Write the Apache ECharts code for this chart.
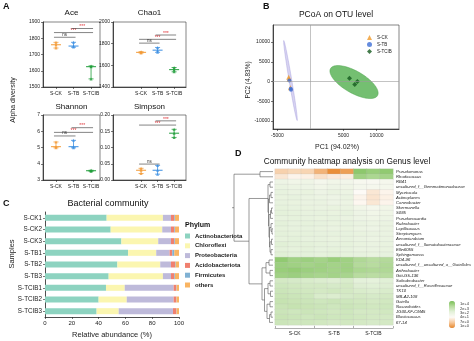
<!DOCTYPE html>
<html><head><meta charset="utf-8">
<script src="https://cdn.jsdelivr.net/npm/echarts@6.0.0/dist/echarts.min.js"></script>
<style>html,body{margin:0;padding:0;background:#fff;}#c{width:474px;height:341px;}</style>
</head><body><div id="c"></div>
<script>
// ===== Panel A: alpha diversity =====
const groups = ['S-CK', 'S-TB', 'S-TCIB'];
const groupPos = [1, 2, 3];
const groupColors = ['#f39a36', '#3b8ee2', '#1f9d3a'];

const aceMean = [1760, 1752, 1625];
const aceLow = [1740, 1745, 1550];
const aceHigh = [1775, 1775, 1630];
const acePoints = [[1775, 1760, 1740], [1775, 1752, 1746], [1630, 1624, 1550]];
const aceSig = [[1, 2, 1806], [1, 3, 1835], [2, 3, 1860]];

const chaoMean = [1720, 1740, 1560];
const chaoLow = [1714, 1720, 1540];
const chaoHigh = [1726, 1765, 1580];
const chaoPoints = [[1726, 1720, 1714], [1765, 1738, 1720], [1580, 1560, 1540]];
const chaoSig = [[1, 2, 1805], [1, 3, 1840], [2, 3, 1880]];

const shannonMean = [5.05, 5.05, 3.57];
const shannonLow = [4.98, 4.98, 3.54];
const shannonHigh = [5.34, 5.44, 3.60];
const shannonPoints = [[5.34, 5.05, 4.98], [5.44, 5.05, 4.98], [3.60, 3.57, 3.54]];
const shannonSig = [[1, 2, 5.71], [1, 3, 5.93], [2, 3, 6.22]];

const simpsonMean = [0.030, 0.030, 0.144];
const simpsonLow = [0.020, 0.018, 0.131];
const simpsonHigh = [0.036, 0.045, 0.156];
const simpsonPoints = [[0.036, 0.030, 0.020], [0.045, 0.030, 0.018], [0.156, 0.144, 0.131]];
const simpsonSig = [[1, 2, 0.049], [1, 3, 0.169], [2, 3, 0.182]];

const sigLabels = ['ns', '***', '***'];

// ===== Panel B: PCoA =====
const pcoaCK = [[-3300, 1100], [-3250, 600], [-3050, -1550]];
const pcoaTB = [[-3200, 250], [-2950, -2100], [-3000, -1800]];
const pcoaTCIB = [[5900, 850], [6700, -750], [7100, 0]];
// [cx, cy, ux, uy, vx, vy] : centre and two half-axis vectors (data units)
const ellipseData = [[-3035, 255, 1015, -10120, 210, 0], [6590, -125, 3560, -3415, -820, -2400]];
const pcoaXTicks = [-5000, 5000, 10000];
const pcoaYTicks = [-10000, -5000, 0, 5000, 10000];

// ===== Panel C: bacterial community =====
const samples = ['S-CK1', 'S-CK2', 'S-CK3', 'S-TB1', 'S-TB2', 'S-TB3', 'S-TCIB1', 'S-TCIB2', 'S-TCIB3'];
const phyla = ['Actinobacteriota', 'Chloroflexi', 'Proteobacteria', 'Acidobacteriota', 'Firmicutes', 'others'];
const actino = [46, 49, 57, 62, 54, 47.5, 45.5, 40, 38.5];
const chloro = [42, 38.5, 27.5, 21, 32, 40.5, 14, 21, 16.5];
const proteo = [6, 6.5, 9.5, 10, 8, 6, 36.5, 35, 40.5];
const acido = [2.5, 2.5, 2.5, 2, 3, 2.5, 2, 2, 2.5];
const firmi = [0.5, 0.5, 0.5, 1.5, 0.5, 0.5, 0.3, 0.2, 0.2];
const others = [3, 3, 3, 3.5, 2.5, 3, 1.7, 1.8, 1.8];
const phylumColors = ['#8dd3c0', '#fbf6b0', '#bebada', '#f0806f', '#80b1d3', '#f9b462'];

// ===== Panel D: heatmap =====
const sampleCols = ['CK1', 'CK2', 'CK3', 'TB1', 'TB2', 'TB3', 'TCIB1', 'TCIB2', 'TCIB3'];
const genera = ['Pseudomonas', 'Rhodococcus', 'RB41', 'uncultured_f__Gemmatimonadaceae', 'Mycetocola',
  'Actinoplanes', 'Conexibacter', 'Skermanella', 'S085', 'Pseudonocardia', 'Rubrobacter', 'Lapillicoccus',
  'Streptomyces', 'Aeromicrobium', 'uncultured_f__Ilumatobacteraceae', 'Ellin6055', 'Sphingomonas', 'KD4-96',
  'uncultured_f__uncultured_o__Gaiellales', 'Arthrobacter', 'Gitt-GS-136', 'Solirubrobacter',
  'uncultured_f__Roseiflexaceae', 'TK10', 'MB-A2-108', 'Gaiella', 'Nocardioides', 'JG30-KF-CM45',
  'Blastococcus', '67-14'];
// log10 abundance per genus (rows) and sample (columns)
const heatRows = [
  [0.95, 1.05, 1.0, 0.55, 0.1, 0.3, 3.75, 3.6, 3.7],
  [1.3, 1.5, 1.45, 1.2, 1.35, 1.4, 3.5, 3.35, 3.45],
  [2.1, 2.0, 2.05, 1.9, 2.0, 1.95, 1.8, 1.75, 1.85],
  [2.2, 2.15, 2.1, 2.0, 2.1, 2.05, 1.9, 1.85, 1.9],
  [2.3, 2.2, 2.25, 2.1, 2.2, 2.15, 1.6, 1.3, 1.5],
  [2.25, 2.3, 2.2, 2.15, 2.1, 2.2, 1.5, 1.25, 1.45],
  [2.3, 2.25, 2.2, 2.2, 2.1, 2.15, 1.55, 1.3, 1.5],
  [2.35, 2.3, 2.25, 2.2, 2.25, 2.2, 2.0, 1.9, 2.0],
  [2.4, 2.35, 2.3, 2.3, 2.25, 2.3, 2.1, 2.0, 2.05],
  [2.3, 2.35, 2.3, 2.25, 2.3, 2.2, 2.1, 2.05, 2.1],
  [2.4, 2.3, 2.35, 2.3, 2.25, 2.3, 2.2, 2.15, 2.2],
  [2.35, 2.3, 2.3, 2.25, 2.2, 2.25, 2.15, 2.1, 2.2],
  [2.4, 2.35, 2.35, 2.3, 2.3, 2.3, 2.25, 2.2, 2.2],
  [2.35, 2.4, 2.3, 2.3, 2.25, 2.3, 2.2, 2.15, 2.2],
  [2.45, 2.4, 2.4, 2.35, 2.3, 2.35, 2.25, 2.2, 2.25],
  [2.4, 2.35, 2.4, 2.3, 2.35, 2.3, 2.2, 2.2, 2.25],
  [2.45, 2.4, 2.4, 2.35, 2.4, 2.35, 2.3, 2.25, 2.3],
  [3.7, 3.5, 3.55, 3.45, 3.6, 3.5, 3.3, 3.2, 3.25],
  [3.55, 3.5, 3.45, 3.5, 3.45, 3.5, 3.25, 3.2, 3.3],
  [3.6, 3.65, 3.55, 3.5, 3.45, 3.5, 3.35, 3.3, 3.3],
  [3.5, 3.55, 3.45, 3.4, 3.45, 3.4, 3.2, 3.15, 3.2],
  [2.7, 2.65, 2.6, 2.55, 2.5, 2.6, 2.4, 2.35, 2.45],
  [2.8, 2.75, 2.7, 2.7, 2.65, 2.7, 2.5, 2.45, 2.5],
  [2.85, 2.8, 2.75, 2.7, 2.75, 2.7, 2.6, 2.55, 2.6],
  [2.9, 2.85, 2.8, 2.6, 2.55, 2.65, 2.7, 2.65, 2.7],
  [2.95, 2.9, 2.85, 2.8, 2.85, 2.8, 2.75, 2.7, 2.75],
  [2.9, 2.95, 2.9, 2.85, 2.8, 2.85, 2.8, 2.75, 2.8],
  [2.85, 2.8, 2.85, 2.8, 2.75, 2.8, 2.7, 2.7, 2.75],
  [2.9, 2.85, 2.8, 2.85, 2.8, 2.8, 2.75, 2.7, 2.7],
  [2.85, 2.8, 2.8, 2.75, 2.7, 2.75, 2.7, 2.65, 2.7]
];
const legendTicks = ['1e+0', '7e+0', '4e+1', '3e+2', '2e+3', '1e+4'];
const heatColors = ['#e8862a', '#f6c89c', '#fdfaf6', '#e4f1da', '#b8dc9f', '#79bf55'];
// dendrogram: [height, left, right], leaves are row indices
const dendroTree = [39,
  [13, 0, 1],
  [24,
    [5,
      [3, 2, 3],
      [4.5,
        [3.5, [2, 4, 5], 6],
        [4,
          [2.5, [1.5, 7, 8], 9],
          [3.5, [2, 10, [1, 11, 12]], [3, [1.5, 13, 14], [2, 15, 16]]]
        ]
      ]
    ],
    [11,
      [7, [4, 17, 18], [3, 19, 20]],
      [8.5,
        [5, [3, 21, 22], [2.5, 23, 24]],
        [6, [3, 25, 26], [3.5, [2, 27, 28], 29]]
      ]
    ]
  ]
];

// ================= build =================
const FONT = '"Liberation Sans", Arial, Helvetica, sans-serif';
const grid = [], xAxis = [], yAxis = [], series = [];
const plain = v => String(v);

function errRender(params, api) {
  const x = api.value(0), m = api.value(1), lo = api.value(2), hi = api.value(3);
  const c = groupColors[params.dataIndex];
  const pm = api.coord([x, m]), pl = api.coord([x, lo]), ph = api.coord([x, hi]);
  const w = 5, cw = 2.5;
  return { type: 'group', children: [
    { type: 'line', shape: { x1: pm[0] - w, y1: pm[1], x2: pm[0] + w, y2: pm[1] }, style: { stroke: c, lineWidth: 1 } },
    { type: 'line', shape: { x1: pl[0], y1: pl[1], x2: ph[0], y2: ph[1] }, style: { stroke: c, lineWidth: 0.8 } },
    { type: 'line', shape: { x1: pl[0] - cw, y1: pl[1], x2: pl[0] + cw, y2: pl[1] }, style: { stroke: c, lineWidth: 0.8 } },
    { type: 'line', shape: { x1: ph[0] - cw, y1: ph[1], x2: ph[0] + cw, y2: ph[1] }, style: { stroke: c, lineWidth: 0.8 } }
  ] };
}
function sigRender(params, api) {
  const p1 = api.coord([api.value(0), api.value(2)]), p2 = api.coord([api.value(1), api.value(2)]);
  const lab = sigLabels[params.dataIndex];
  const red = lab !== 'ns';
  return { type: 'group', children: [
    { type: 'line', shape: { x1: p1[0] - 2, y1: p1[1], x2: p2[0] + 2, y2: p2[1] }, style: { stroke: '#333', lineWidth: 0.6 } },
    { type: 'text', x: (p1[0] + p2[0]) / 2, y: p1[1] + (red ? 0.8 : -0.3),
      style: { text: lab, fill: red ? '#e0353a' : '#333', fontSize: red ? 5 : 4.5, fontFamily: FONT, align: 'center', verticalAlign: 'bottom' } }
  ] };
}

function addAlpha(gi, box, xr, ymin, ymax, yint, fmt, mean, low, high, pts, sig) {
  grid.push({ left: box[0], top: box[1], width: box[2], height: box[3], show: true, borderColor: '#333', borderWidth: 0.6 });
  xAxis.push({ gridIndex: gi, type: 'value', min: xr[0], max: xr[1], splitLine: { show: false },
    axisLine: { onZero: false, lineStyle: { color: '#222', width: 0.8 } },
    axisTick: { show: true, customValues: groupPos, length: 2, lineStyle: { color: '#222', width: 0.6 } },
    axisLabel: { customValues: groupPos, formatter: v => groups[Math.round(v) - 1], fontSize: 5, color: '#222', margin: 4 } });
  yAxis.push({ gridIndex: gi, type: 'value', min: ymin, max: ymax, interval: yint, splitLine: { show: false },
    axisLine: { show: true, onZero: false, lineStyle: { color: '#222', width: 0.8 } },
    axisTick: { show: true, length: 2, lineStyle: { color: '#222', width: 0.6 } },
    axisLabel: { fontSize: 5, color: '#222', margin: 3, formatter: fmt } });
  series.push({ type: 'custom', xAxisIndex: gi, yAxisIndex: gi, renderItem: errRender, encode: { x: 0, y: [1, 2, 3] },
    data: groupPos.map((p, i) => [p, mean[i], low[i], high[i]]), silent: true });
  const sd = [];
  pts.forEach((arr, g) => arr.forEach(v => sd.push({ value: [groupPos[g], v], itemStyle: { color: groupColors[g] } })));
  series.push({ type: 'scatter', xAxisIndex: gi, yAxisIndex: gi, symbol: 'triangle', symbolSize: 3, data: sd, silent: true });
  series.push({ type: 'custom', xAxisIndex: gi, yAxisIndex: gi, renderItem: sigRender, encode: { x: [0, 1], y: 2 },
    data: sig, silent: true });
}
const rangeNarrow = [0.26, 3.51], rangeWide = [-0.70, 3.72];
addAlpha(0, [43, 22, 57, 65], rangeNarrow, 1500, 1900, 100, plain, aceMean, aceLow, aceHigh, acePoints, aceSig);
addAlpha(1, [113, 22, 73, 65], rangeWide, 1400, 2000, 200, plain, chaoMean, chaoLow, chaoHigh, chaoPoints, chaoSig);
addAlpha(2, [43, 115, 57, 65], rangeNarrow, 3, 7, 1, plain, shannonMean, shannonLow, shannonHigh, shannonPoints, shannonSig);
addAlpha(3, [113, 115, 73, 65], rangeWide, 0, 0.2, 0.05, v => v.toFixed(2), simpsonMean, simpsonLow, simpsonHigh, simpsonPoints, simpsonSig);

// ---- B
grid.push({ left: 273, top: 25, width: 126, height: 104, show: true, borderColor: '#333', borderWidth: 0.6 });
xAxis.push({ gridIndex: 4, type: 'value', min: -5680, max: 13400, splitLine: { show: false },
  axisLine: { onZero: false, lineStyle: { color: '#222', width: 0.8 } },
  axisTick: { customValues: pcoaXTicks, length: 2, lineStyle: { color: '#222', width: 0.6 } },
  axisLabel: { customValues: pcoaXTicks, formatter: plain, fontSize: 5, color: '#222', margin: 4 } });
yAxis.push({ gridIndex: 4, type: 'value', min: -12000, max: 14300, splitLine: { show: false },
  axisLine: { show: true, onZero: false, lineStyle: { color: '#222', width: 0.8 } },
  axisTick: { show: true, customValues: pcoaYTicks, length: 2, lineStyle: { color: '#222', width: 0.6 } },
  axisLabel: { customValues: pcoaYTicks, formatter: plain, fontSize: 5, color: '#222', margin: 3 } });
const ellFill = ['rgba(175,168,228,0.5)', 'rgba(92,180,88,0.85)'];
const ellStroke = ['rgba(150,140,215,0.7)', 'rgba(70,160,70,0.9)'];
series.push({ type: 'custom', xAxisIndex: 4, yAxisIndex: 4, silent: true, clip: true, encode: { x: 0, y: 1 },
  data: ellipseData,
  renderItem: (params, api) => {
    const v = [0, 1, 2, 3, 4, 5].map(i => api.value(i));
    const pts = [];
    for (let i = 0; i < 90; i++) {
      const t = i / 90 * 2 * Math.PI;
      pts.push(api.coord([v[0] + Math.cos(t) * v[2] + Math.sin(t) * v[4], v[1] + Math.cos(t) * v[3] + Math.sin(t) * v[5]]));
    }
    return { type: 'polygon', shape: { points: pts }, style: { fill: ellFill[params.dataIndex], stroke: ellStroke[params.dataIndex], lineWidth: 0.5 } };
  } });
series.push({ name: 'S-CK', type: 'scatter', xAxisIndex: 4, yAxisIndex: 4, symbol: 'triangle', symbolSize: 5,
  itemStyle: { color: '#f09a2a' }, data: pcoaCK,
  markLine: { silent: true, symbol: 'none', label: { show: false }, lineStyle: { color: '#9a9a9a', width: 0.6, type: 'solid' },
    data: [{ xAxis: 0 }, { yAxis: 0 }] } });
series.push({ name: 'S-TB', type: 'scatter', xAxisIndex: 4, yAxisIndex: 4, symbol: 'circle', symbolSize: 4,
  itemStyle: { color: '#3f6fd6' }, data: pcoaTB });
series.push({ name: 'S-TCIB', type: 'scatter', xAxisIndex: 4, yAxisIndex: 4, symbol: 'diamond', symbolSize: 5,
  itemStyle: { color: '#145a1e' }, data: pcoaTCIB });

// ---- C
grid.push({ left: 45, top: 212, width: 134, height: 105 });
xAxis.push({ gridIndex: 5, type: 'value', min: 0, max: 100, interval: 20, splitLine: { show: false },
  axisLine: { show: true, lineStyle: { color: '#222', width: 0.8 } },
  axisTick: { show: true, length: 2, lineStyle: { color: '#222', width: 0.6 } },
  axisLabel: { fontSize: 6, color: '#222', margin: 3 },
  name: 'Relative abundance (%)', nameLocation: 'middle', nameGap: 14, nameTextStyle: { fontSize: 7.5, color: '#222' } });
yAxis.push({ gridIndex: 5, type: 'category', data: samples, inverse: true,
  axisLine: { show: true, lineStyle: { color: '#222', width: 0.8 } },
  axisTick: { show: true, length: 2, alignWithLabel: true, lineStyle: { color: '#222', width: 0.6 } },
  axisLabel: { fontSize: 6.3, color: '#222', margin: 3 } });
[actino, chloro, proteo, acido, firmi, others].forEach((arr, i) => {
  series.push({ name: phyla[i], type: 'bar', stack: 'phylum', xAxisIndex: 5, yAxisIndex: 5, barWidth: 6,
    itemStyle: { color: phylumColors[i] }, data: arr, silent: true });
});

// ---- D dendrogram
const dendroLinks = [];
function walk(n) {
  if (typeof n === 'number') return { h: 0, y: n };
  const L = walk(n[1]), R = walk(n[2]);
  dendroLinks.push([n[0], L.y, R.y, L.h, R.h]);
  return { h: n[0], y: (L.y + R.y) / 2 };
}
walk(dendroTree);
grid.push({ left: 233, top: 169, width: 40, height: 156 });
xAxis.push({ gridIndex: 6, type: 'value', min: 0, max: 40, inverse: true, show: false });
yAxis.push({ gridIndex: 6, type: 'value', min: -0.5, max: 29.5, inverse: true, show: false });
series.push({ type: 'custom', xAxisIndex: 6, yAxisIndex: 6, silent: true, encode: { x: [0, 3, 4], y: [1, 2] },
  data: dendroLinks,
  renderItem: (params, api) => {
    const h = api.value(0), yl = api.value(1), yr = api.value(2), hl = api.value(3), hr = api.value(4);
    const a = api.coord([hl, yl]), b = api.coord([h, yl]), c = api.coord([h, yr]), d = api.coord([hr, yr]);
    const ch = [{ type: 'polyline', shape: { points: [a, b, c, d] }, style: { stroke: '#555', lineWidth: 0.6, fill: null } }];
    if (params.dataIndex === dendroLinks.length - 1) {
      const m = api.coord([h, (yl + yr) / 2]);
      ch.push({ type: 'line', shape: { x1: m[0] - 2, y1: m[1], x2: m[0], y2: m[1] }, style: { stroke: '#555', lineWidth: 0.6 } });
    }
    return { type: 'group', children: ch };
  } });

// ---- D heatmap
grid.push({ left: 275, top: 169, width: 124, height: 156 });
xAxis.push({ gridIndex: 7, type: 'category', data: sampleCols, show: false });
xAxis.push({ gridIndex: 7, type: 'category', data: groups, position: 'bottom', offset: 3,
  axisLine: { show: true, lineStyle: { color: '#777', width: 0.6 } },
  axisTick: { show: true, inside: true, length: 2, lineStyle: { color: '#777', width: 0.6 } },
  axisLabel: { fontSize: 5, color: '#222', margin: 3 } });
yAxis.push({ gridIndex: 7, type: 'category', data: genera, inverse: true, position: 'right',
  axisLine: { show: false }, axisTick: { show: false },
  axisLabel: { fontSize: 4.2, fontStyle: 'italic', color: '#222', margin: 3, interval: 0 } });
const heatData = [];
heatRows.forEach((row, r) => row.forEach((v, c) => heatData.push([c, r, v])));
const heatIdx = series.length;
series.push({ type: 'heatmap', xAxisIndex: 7, yAxisIndex: 7, data: heatData, silent: true,
  itemStyle: { borderColor: 'rgba(185,185,185,0.55)', borderWidth: 0.3 } });

// ---- D colour legend labels
grid.push({ left: 456, top: 304, width: 1, height: 22 });
xAxis.push({ gridIndex: 8, type: 'value', show: false });
yAxis.push({ gridIndex: 8, type: 'category', data: legendTicks, boundaryGap: false, position: 'right',
  axisLine: { show: false }, axisTick: { show: false },
  axisLabel: { fontSize: 4, color: '#333', margin: 3, interval: 0 } });

const titleStyle = (s, b) => ({ fontSize: s, fontWeight: b ? 'bold' : 'normal', color: '#111', fontFamily: FONT });
const option = {
  animation: false,
  backgroundColor: '#fff',
  textStyle: { fontFamily: FONT },
  title: [
    { text: 'A', left: 3, top: 2, padding: 0, textStyle: titleStyle(9, true) },
    { text: 'Ace', left: 71.5, top: 9, textAlign: 'center', padding: 0, textStyle: titleStyle(8) },
    { text: 'Chao1', left: 149.5, top: 9, textAlign: 'center', padding: 0, textStyle: titleStyle(8) },
    { text: 'Shannon', left: 71.5, top: 103, textAlign: 'center', padding: 0, textStyle: titleStyle(8) },
    { text: 'Simpson', left: 149.5, top: 103, textAlign: 'center', padding: 0, textStyle: titleStyle(8) },
    { text: 'B', left: 263, top: 2, padding: 0, textStyle: titleStyle(9, true) },
    { text: 'PCoA on OTU level', left: 336, top: 10, textAlign: 'center', padding: 0, textStyle: titleStyle(8.5) },
    { text: 'C', left: 3, top: 199, padding: 0, textStyle: titleStyle(9, true) },
    { text: 'Bacterial community', left: 108, top: 199, textAlign: 'center', padding: 0, textStyle: titleStyle(9) },
    { text: 'Phylum', left: 185, top: 222, padding: 0, textStyle: titleStyle(7, true) },
    { text: 'D', left: 235, top: 149, padding: 0, textStyle: titleStyle(9, true) },
    { text: 'Community heatmap analysis on Genus level', left: 347, top: 158, textAlign: 'center', padding: 0, textStyle: titleStyle(8.3) }
  ],
  legend: [
    { data: ['S-CK', 'S-TB', 'S-TCIB'], orient: 'vertical', left: 367, top: 35, itemWidth: 5, itemHeight: 5, itemGap: 2,
      padding: 0, textStyle: { fontSize: 4.5, color: '#222' }, selectedMode: false },
    { data: phyla, orient: 'vertical', left: 185, top: 233, itemWidth: 5, itemHeight: 5, itemGap: 3.8, icon: 'rect',
      padding: 0, textStyle: { fontSize: 6, fontWeight: 'bold', color: '#222' }, selectedMode: false }
  ],
  visualMap: [{ type: 'continuous', min: 0, max: 4, seriesIndex: [heatIdx], show: true, left: 449, top: 301,
    itemWidth: 6, itemHeight: 27, padding: 0, calculable: false, hoverLink: false,
    inRange: { color: heatColors } }],
  grid, xAxis, yAxis, series,
  graphic: [
    { type: 'text', x: 13, y: 100, rotation: Math.PI / 2,
      style: { text: 'Alpha diversity', fontSize: 7, fill: '#222', fontFamily: FONT, align: 'center', verticalAlign: 'middle' } },
    { type: 'text', x: 12, y: 254, rotation: Math.PI / 2,
      style: { text: 'Samples', fontSize: 7.5, fill: '#222', fontFamily: FONT, align: 'center', verticalAlign: 'middle' } },
    { type: 'text', x: 248, y: 80, rotation: Math.PI / 2,
      style: { text: 'PC2 (4.83%)', fontSize: 6.5, fill: '#222', fontFamily: FONT, align: 'center', verticalAlign: 'middle' } },
    { type: 'text', x: 337, y: 147,
      style: { text: 'PC1 (94.02%)', fontSize: 7, fill: '#222', fontFamily: FONT, align: 'center', verticalAlign: 'middle' } }
  ]
};
const chart = echarts.init(document.getElementById('c'));
chart.setOption(option);
</script>
</body></html>
